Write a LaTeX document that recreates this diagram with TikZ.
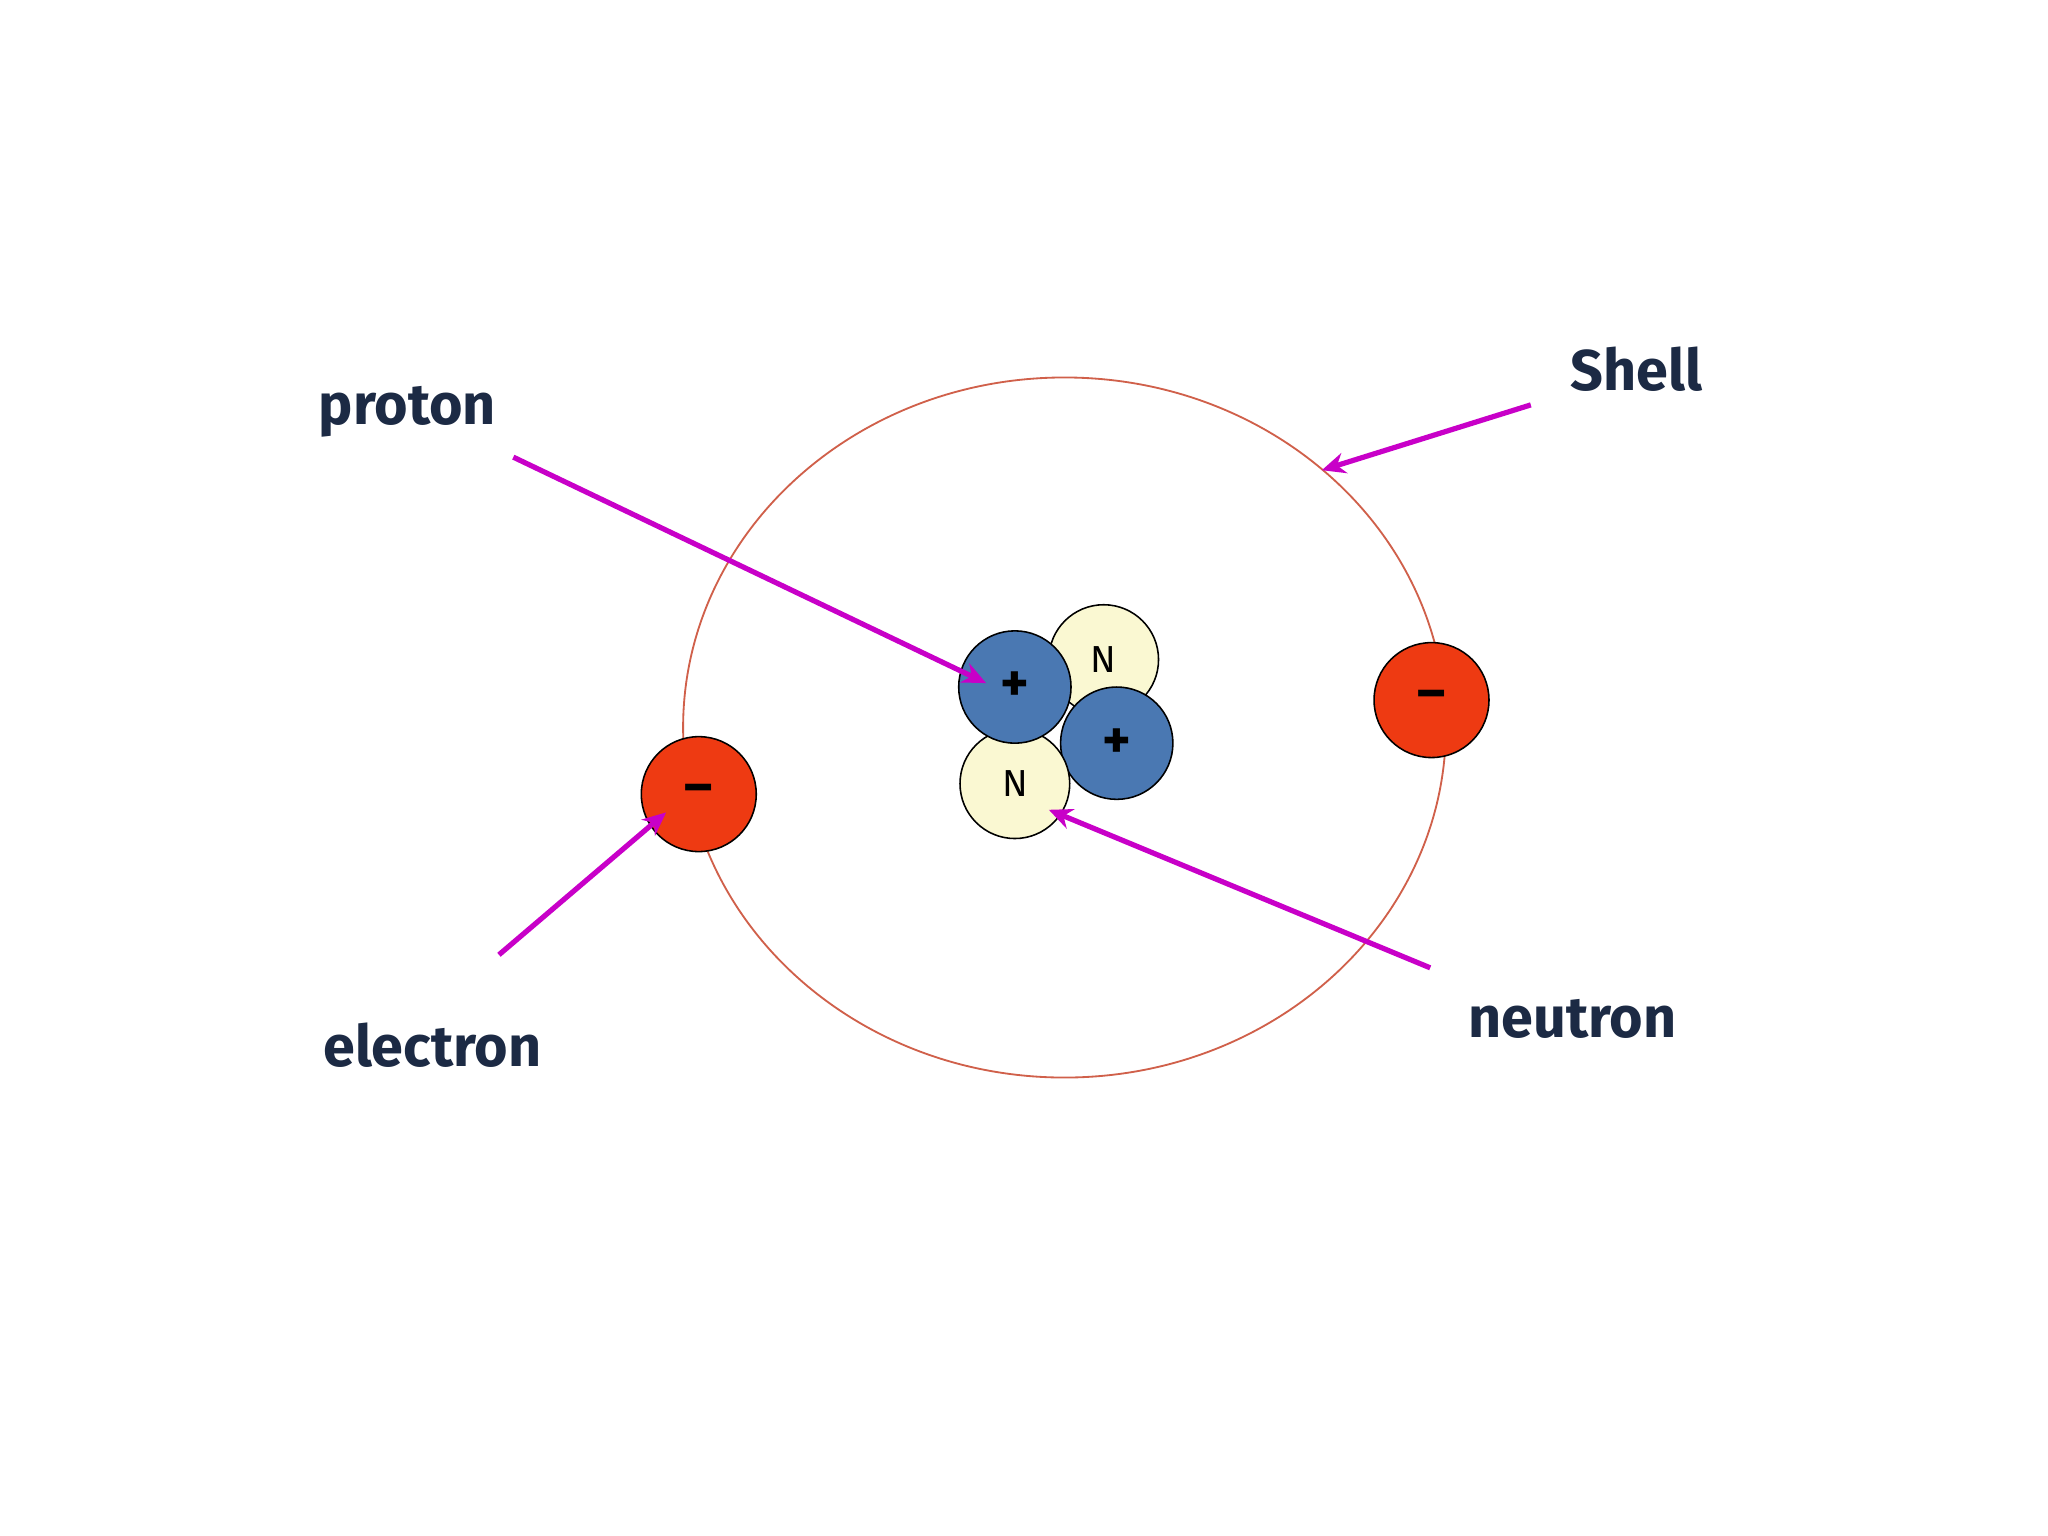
\documentclass[tikz,border=0pt]{standalone}
\usepackage{fontspec}
\setmainfont{Fira Sans}
\usetikzlibrary{arrows.meta,calc}
\definecolor{txt}{HTML}{1C2A44}
\definecolor{mag}{HTML}{C800C8}
\definecolor{shellc}{HTML}{D0604A}
\definecolor{ered}{HTML}{EE3A12}
\definecolor{pblue}{HTML}{4A78B2}
\definecolor{ncream}{HTML}{FAF8D2}
\begin{document}
\begin{tikzpicture}[x=0.5pt,y=-0.5pt,
  lbl/.style={text=txt,font=\fontsize{22}{26}\selectfont\bfseries},
  arr/.style={mag,line width=2pt,-{Stealth[length=9pt,width=8pt]}},
  elec/.style={circle,draw=black,line width=0.6pt,fill=ered,minimum size=44pt,inner sep=0pt,font=\huge\bfseries},
  prot/.style={circle,draw=black,line width=0.6pt,fill=pblue,minimum size=43pt,inner sep=0pt,font=\huge\bfseries},
  neut/.style={circle,draw=black,line width=0.6pt,fill=ncream,minimum size=42pt,inner sep=0pt,font=\Large}]
\useasboundingbox (0,0) rectangle (1568,1176);
\fill[white] (0,0) rectangle (1568,1176);
\draw[shellc,line width=0.7pt] (815,557) ellipse [x radius=292,y radius=268];
\node[elec] (e1) at (535,608) {--};
\node[elec] (e2) at (1096,536) {--};
\node[neut] (n1) at (845,505) {N};
\node[prot] (p2) at (855,569) {+};
\node[neut] (n2) at (777,600) {N};
\node[prot] (p1) at (777,526) {+};
\node[lbl] (lp) at (312,315) {proton};
\node[lbl] (ls) at (1253,283) {Shell};
\node[lbl] (le) at (331,800) {electron};
\node[lbl] (ln) at (1204,780) {neutron};
\coordinate (ap) at (393,350);
\coordinate (as) at (1172,310);
\coordinate (ae) at (382,731);
\coordinate (an) at (1095,741);
\coordinate (sh) at (1012,360);
\draw[arr] (ap) -- ($(p1)+(-22,-3)$);
\draw[arr] (as) -- (sh);
\draw[arr] (ae) -- ($(e1)+(-25,14)$);
\draw[arr] (an) -- ($(n2)+(26,20)$);
\end{tikzpicture}
\end{document}
